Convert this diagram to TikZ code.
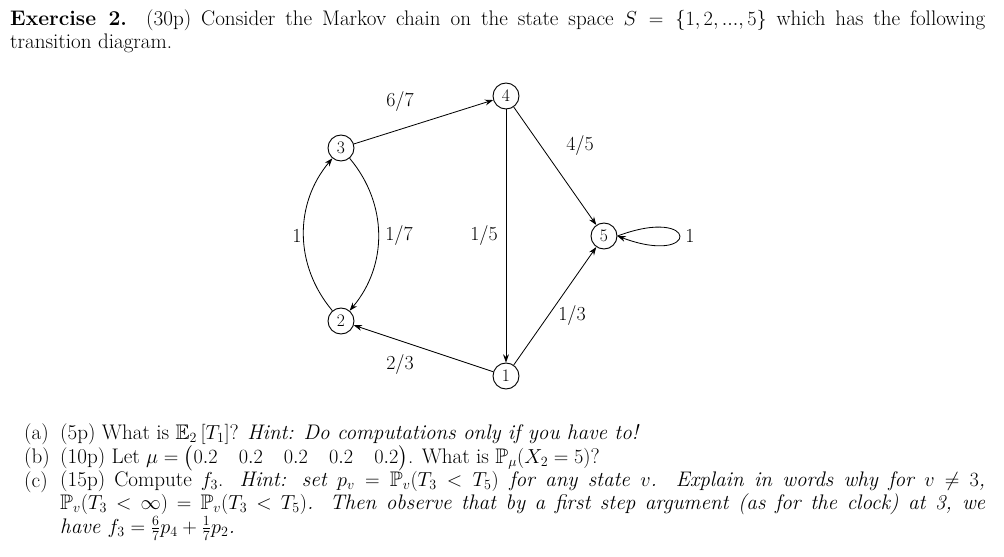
\documentclass[tikz,border=0pt]{standalone}
\usepackage{amsmath,amssymb}
\usetikzlibrary{arrows.meta}
\begin{document}
\begin{tikzpicture}[x=0.03cm,y=-0.03cm,
  st/.style={circle,draw,line width=0.8pt,minimum size=26*0.03cm,inner sep=0pt,font=\fontsize{15}{18}\selectfont},
  lab/.style={font=\fontsize{17}{20}\selectfont},
  ar/.style={-{Stealth[length=7pt,width=5pt]},line width=0.7pt},
  txt/.style={anchor=base west,inner sep=0pt,font=\fontsize{18}{20.4}\selectfont},
  ptxt/.style={anchor=north west,inner sep=0pt,align=justify,font=\fontsize{18}{20.4}\selectfont}]
\useasboundingbox (0,0) rectangle (1004,556);
\node[ptxt,text width=975*0.03cm] (hd) at (10,9) {\textbf{Exercise 2.} (30p) Consider the Markov chain on the state space $S=\{1,2,...,5\}$ which has the following\linebreak transition diagram.};
\node[st] (n4) at (506,96) {4};
\node[st] (n3) at (341,148) {3};
\node[st] (n5) at (604,236) {5};
\node[st] (n2) at (341,321) {2};
\node[st] (n1) at (506,376) {1};
\draw[ar] (n3) -- (n4);
\draw[ar] (n4) -- (n5);
\draw[ar] (n4) -- (n1);
\draw[ar] (n1) -- (n5);
\draw[ar] (n1) -- (n2);
\draw[ar] (n2) to[bend left=40] (n3);
\draw[ar] (n3) to[bend left=40] (n2);
\draw[ar] (n5.east) .. controls (700,205) and (700,267) .. (n5.east);
\node[lab] (l1) at (400,102) {6/7};
\node[lab] (l2) at (580,146) {4/5};
\node[lab] (l3) at (484,236) {1/5};
\node[lab] (l4) at (572,316) {1/3};
\node[lab] (l5) at (400,365) {2/3};
\node[lab] (l6) at (297,236) {1};
\node[lab] (l7) at (399,236) {1/7};
\node[lab] (l8) at (690,236) {1};
\node[txt] (ia) at (24,439) {(a)};
\node[txt] (ta) at (60,439) {(5p) What is $\mathbb{E}_2\left[T_1\right]$? \textit{Hint: Do computations only if you have to!}};
\node[txt] (ib) at (24,463) {(b)};
\node[txt] (tb) at (60,463) {(10p) Let $\mu=\bigl(0.2\quad 0.2\quad 0.2\quad 0.2\quad 0.2\bigr)$. What is $\mathbb{P}_\mu(X_2=5)$?};
\node[txt] (ic) at (24,487) {(c)};
\node[ptxt,text width=925*0.03cm] (tc) at (60,470) {(15p) Compute $f_3$. \textit{Hint: set $p_v=\mathbb{P}_v(T_3<T_5)$ for any state $v$. Explain in words why for $v\neq 3$,\linebreak $\mathbb{P}_v(T_3<\infty)=\mathbb{P}_v(T_3<T_5)$. Then observe that by a first step argument (as for the clock) at 3, we\linebreak have $f_3=\frac{6}{7}p_4+\frac{1}{7}p_2$.}};
\end{tikzpicture}
\end{document}
